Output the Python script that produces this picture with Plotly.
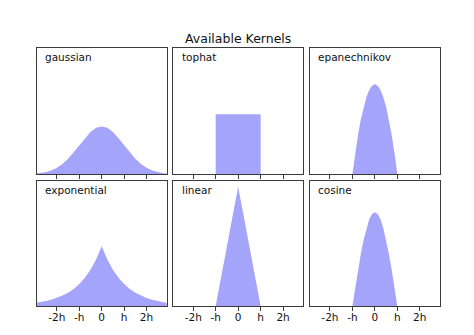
import plotly.graph_objects as go
from plotly.subplots import make_subplots

# ---- data ----
kernels = ["gaussian", "tophat", "epanechnikov", "exponential", "linear", "cosine"]

gauss_x = [-3.0, -2.75, -2.5, -2.25, -2.0, -1.75, -1.5, -1.25, -1.0, -0.75, -0.5, -0.25, 0.0,
           0.25, 0.5, 0.75, 1.0, 1.25, 1.5, 1.75, 2.0, 2.25, 2.5, 2.75, 3.0]
gauss_y = [0.004, 0.009, 0.018, 0.032, 0.054, 0.086, 0.130, 0.183, 0.242, 0.301, 0.352, 0.387, 0.399,
           0.387, 0.352, 0.301, 0.242, 0.183, 0.130, 0.086, 0.054, 0.032, 0.018, 0.009, 0.004]

tophat_x = [-1.0, -1.0, 1.0, 1.0]
tophat_y = [0.0, 0.5, 0.5, 0.0]

epan_x = [-1.0, -0.875, -0.75, -0.625, -0.5, -0.375, -0.25, -0.125, 0.0,
          0.125, 0.25, 0.375, 0.5, 0.625, 0.75, 0.875, 1.0]
epan_y = [0.0, 0.176, 0.328, 0.457, 0.563, 0.645, 0.703, 0.738, 0.750,
          0.738, 0.703, 0.645, 0.563, 0.457, 0.328, 0.176, 0.0]

expo_x = [-3.0, -2.75, -2.5, -2.25, -2.0, -1.75, -1.5, -1.25, -1.0, -0.75, -0.5, -0.25, 0.0,
          0.25, 0.5, 0.75, 1.0, 1.25, 1.5, 1.75, 2.0, 2.25, 2.5, 2.75, 3.0]
expo_y = [0.025, 0.032, 0.041, 0.053, 0.068, 0.087, 0.112, 0.143, 0.184, 0.236, 0.303, 0.389, 0.500,
          0.389, 0.303, 0.236, 0.184, 0.143, 0.112, 0.087, 0.068, 0.053, 0.041, 0.032, 0.025]

linear_x = [-1.0, 0.0, 1.0]
linear_y = [0.0, 1.0, 0.0]

cos_x = [-1.0, -0.875, -0.75, -0.625, -0.5, -0.375, -0.25, -0.125, 0.0,
         0.125, 0.25, 0.375, 0.5, 0.625, 0.75, 0.875, 1.0]
cos_y = [0.0, 0.154, 0.301, 0.436, 0.555, 0.653, 0.726, 0.770, 0.785,
         0.770, 0.726, 0.653, 0.555, 0.436, 0.301, 0.154, 0.0]

series = [(gauss_x, gauss_y), (tophat_x, tophat_y), (epan_x, epan_y),
          (expo_x, expo_y), (linear_x, linear_y), (cos_x, cos_y)]

tick_vals = [-2, -1, 0, 1, 2]
tick_text = ["-2h", "-h", "0", "h", "2h"]

# ---- figure ----
W, H = 474, 335
fig = make_subplots(rows=2, cols=3)

xdoms = [(36.7 / W, 166.7 / W), (173.0 / W, 303.3 / W), (309.7 / W, 440.0 / W)]
ydoms = [(1 - 174.3 / H, 1 - 48.3 / H), (1 - 306.0 / H, 1 - 180.7 / H)]

FILL = "#A4A4FA"
FRAME = "#3a3a3a"

for i, (name, (xs, ys)) in enumerate(zip(kernels, series)):
    r, c = i // 3 + 1, i % 3 + 1
    fig.add_trace(go.Scatter(x=xs, y=ys, mode="lines", fill="tozeroy",
                             fillcolor=FILL, line=dict(width=0, color=FILL),
                             hoverinfo="skip", showlegend=False), row=r, col=c)
    fig.add_annotation(x=-2.6, y=0.95, text=name, showarrow=False,
                       xanchor="left", yanchor="bottom", yshift=-5,
                       font=dict(size=10.5, color="#111"), row=r, col=c)
    fig.update_xaxes(domain=xdoms[c - 1], range=[-2.9, 2.9],
                     tickvals=tick_vals, ticktext=tick_text,
                     showticklabels=(r == 2), ticks="outside", ticklen=4,
                     tickwidth=1, tickcolor=FRAME, ticklabelstandoff=-3,
                     showline=True, mirror=True, linecolor=FRAME, linewidth=1,
                     showgrid=False, zeroline=False,
                     tickfont=dict(size=10.5, color="#111"), row=r, col=c)
    fig.update_yaxes(domain=ydoms[r - 1], range=[0, 1.05],
                     showticklabels=False, ticks="",
                     showline=True, mirror=True, linecolor=FRAME, linewidth=1,
                     showgrid=False, zeroline=False, row=r, col=c)

fig.add_annotation(x=(173.0 + 303.3) / 2 / W, y=1 - 38.0 / H, xref="paper", yref="paper",
                   text="Available Kernels", showarrow=False,
                   xanchor="center", yanchor="middle",
                   font=dict(size=12.5, color="#111"))

fig.update_layout(width=W, height=H, margin=dict(l=0, r=0, t=0, b=0),
                  paper_bgcolor="white", plot_bgcolor="white",
                  font=dict(family="DejaVu Sans", color="#111"))

fig.write_html("out.html")
